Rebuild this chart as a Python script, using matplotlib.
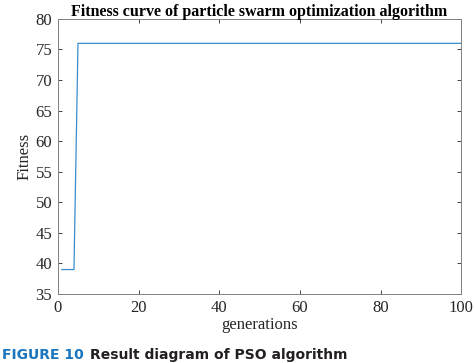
import matplotlib
matplotlib.use('Agg')
from matplotlib import pyplot as plt

# fitness value per generation (PSO run)
generations = list(range(1, 101))
fitness = [39, 39, 39, 39] + [76] * 96

x_ticks = [0, 20, 40, 60, 80, 100]
y_ticks = [35, 40, 45, 50, 55, 60, 65, 70, 75, 80]

plt.rcParams['font.family'] = ['Liberation Serif', 'DejaVu Serif']
axis_color = '#262626'

fig = plt.figure(figsize=(4.74, 3.63), dpi=100)
ax = fig.add_axes([0.122, 0.19, 0.851, 0.758])

ax.plot(generations, fitness, color='#3a8dcc', linewidth=0.9)

ax.set_xlim(0, 100)
ax.set_ylim(35, 80)
ax.set_xticks(x_ticks)
ax.set_yticks(y_ticks)
ax.tick_params(direction='in', top=True, right=True, length=3,
               labelsize=12, colors=axis_color, width=0.6, pad=4)
for sp in ax.spines.values():
    sp.set_color('#808080')
    sp.set_linewidth(0.7)

ax.set_xlabel('generations', fontsize=12, color=axis_color, labelpad=1)
ax.set_ylabel('Fitness', fontsize=12, color=axis_color, labelpad=2)
ax.set_title('Fitness curve of particle swarm optimization algorithm',
             fontsize=11.5, fontweight='bold', pad=2)

# figure caption below the plot
fig.text(0.004, 0.012, 'FIGURE 10', color='#1a75bc', fontsize=10,
         fontweight='bold', family='DejaVu Sans')
fig.text(0.19, 0.012, 'Result diagram of PSO algorithm', color='#231f20',
         fontsize=10, fontweight='bold', family='DejaVu Sans')

fig.savefig('out.png', dpi=100)
